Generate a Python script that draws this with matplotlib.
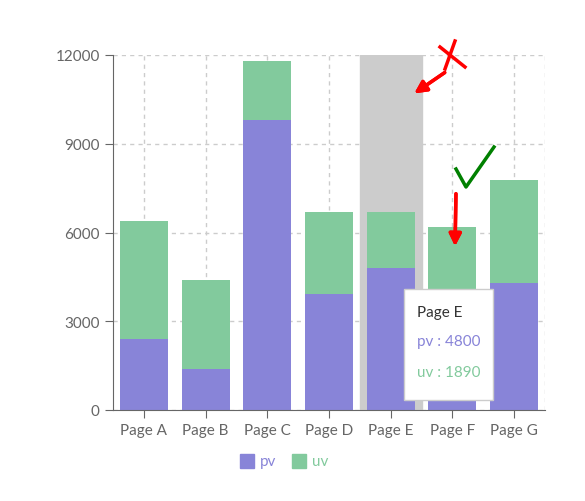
import matplotlib.pyplot as plt
from matplotlib.patches import Rectangle, FancyArrow
import numpy as np

pages = ['Page A', 'Page B', 'Page C', 'Page D', 'Page E', 'Page F', 'Page G']
pv = [2400, 1398, 9800, 3908, 4800, 3800, 4300]
uv = [4000, 3000, 2000, 2780, 1890, 2390, 3490]
yticks = [0, 3000, 6000, 9000, 12000]
active = 4

plt.rcParams['font.family'] = ['Lato', 'DejaVu Sans']
W, H = 585, 502
fig = plt.figure(figsize=(W / 100, H / 100), dpi=100)
ax = fig.add_axes([113 / W, (H - 411) / H, 432 / W, 355 / H])

x = np.arange(len(pages))
ax.set_xlim(-0.5, len(pages) - 0.5)
ax.set_ylim(0, 12000)

ax.axvspan(active - 0.5, active + 0.5, color='#cccccc', zorder=1)
ax.bar(x, pv, width=0.78, color='#8884d8', zorder=2)
ax.bar(x, uv, width=0.78, bottom=pv, color='#82ca9d', zorder=2)

for t in yticks:
    ax.axhline(t, color='#cccccc', ls=(0, (3, 3)), lw=1, zorder=0)
for xi in x:
    ax.axvline(xi, color='#cccccc', ls=(0, (3, 3)), lw=1, zorder=0)
ax.axvline(len(pages) - 0.5, color='#cccccc', ls=(0, (3, 3)), lw=1, zorder=0)

ax.set_yticks(yticks)
ax.set_xticks(x, pages)
for s in ['top', 'right']:
    ax.spines[s].set_visible(False)
for s in ['left', 'bottom']:
    ax.spines[s].set_color('#666666')
ax.tick_params(colors='#666666', labelsize=11, length=6)

def fx(px):
    return px / W

def fy(py):
    return 1 - py / H

# tooltip
fig.patches.append(Rectangle((fx(404), fy(401)), 89 / W, 111 / H, transform=fig.transFigure,
                             facecolor='white', edgecolor='#cccccc', lw=1, zorder=5))
fig.text(fx(417), fy(313), 'Page E', color='#333333', fontsize=11, va='center', zorder=6)
fig.text(fx(417), fy(342), 'pv : %d' % pv[active], color='#8884d8', fontsize=11, va='center', zorder=6)
fig.text(fx(417), fy(373), 'uv : %d' % uv[active], color='#82ca9d', fontsize=11, va='center', zorder=6)

# legend
fig.patches.append(Rectangle((fx(240), fy(469)), 14 / W, 14 / H, transform=fig.transFigure, color='#8884d8'))
fig.text(fx(260), fy(462), 'pv', color='#8884d8', fontsize=11, va='center')
fig.patches.append(Rectangle((fx(292), fy(469)), 14 / W, 14 / H, transform=fig.transFigure, color='#82ca9d'))
fig.text(fx(312), fy(462), 'uv', color='#82ca9d', fontsize=11, va='center')

# hand annotations
line = lambda xs, ys, c: fig.add_artist(plt.Line2D([fx(v) for v in xs], [fy(v) for v in ys],
                                                    color=c, lw=2.5, transform=fig.transFigure))
line([440, 465], [48, 68], 'red')
line([455, 445], [42, 70], 'red')
fig.add_artist(plt.annotate('', xy=(fx(412), fy(96)), xytext=(fx(447), fy(72)), xycoords='figure fraction',
                            arrowprops=dict(arrowstyle='-|>', color='red', lw=2.5, mutation_scale=18)))
line([456, 466, 494], [170, 188, 148], 'green')
fig.add_artist(plt.annotate('', xy=(fx(455), fy(250)), xytext=(fx(456), fy(192)), xycoords='figure fraction',
                            arrowprops=dict(arrowstyle='-|>', color='red', lw=2.5, mutation_scale=18)))

fig.savefig('out.png')
